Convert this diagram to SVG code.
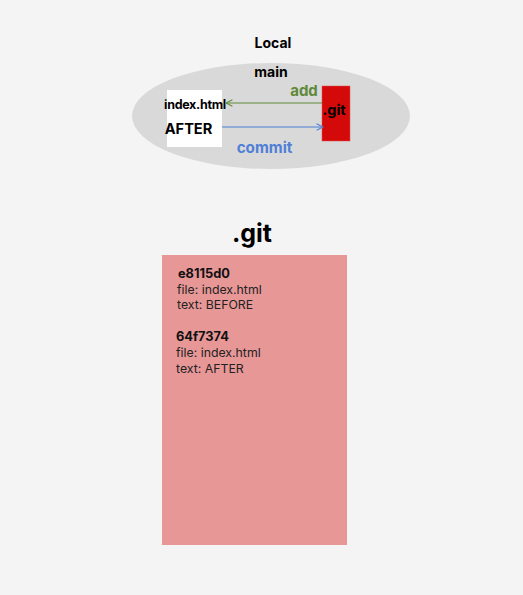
<svg xmlns="http://www.w3.org/2000/svg" width="523" height="595" viewBox="0 0 523 595">
<style>
text{font-family:Inter,"Liberation Sans",sans-serif;}
.b{font-weight:bold;}
.n{font-size:12.3px;fill:#222;}
</style>
<defs>
<marker id="ag" viewBox="0 0 10 10" refX="9" refY="5" markerWidth="8" markerHeight="8" orient="auto" markerUnits="userSpaceOnUse"><path d="M1,1 L9,5 L1,9" fill="none" stroke="#5f8a3a" stroke-width="1.3"/></marker>
<marker id="ab" viewBox="0 0 10 10" refX="9" refY="5" markerWidth="8" markerHeight="8" orient="auto" markerUnits="userSpaceOnUse"><path d="M1,1 L9,5 L1,9" fill="none" stroke="#4f7fd6" stroke-width="1.3"/></marker>
</defs>
<rect width="523" height="595" fill="#f4f4f4"/>
<g id="local">
<text x="273" y="48" text-anchor="middle" class="b" font-size="14">Local</text>
<ellipse cx="271" cy="116" rx="139" ry="53" fill="#d9d9d9"/>
<text x="271" y="77" text-anchor="middle" class="b" font-size="14">main</text>
</g>
<g id="index">
<rect x="167" y="90" width="55" height="57" fill="#ffffff"/>
<text x="195" y="109" text-anchor="middle" class="b" font-size="12.5" letter-spacing="-0.3">index.html</text>
<text x="188.5" y="134" text-anchor="middle" class="b" font-size="14.6">AFTER</text>
</g>
<g id="gitbox">
<rect x="322" y="86" width="28" height="55" fill="#d40a0a" stroke="#e05050" stroke-width="0.5"/>
<text x="334" y="115" text-anchor="middle" class="b" font-size="14.5">.git</text>
</g>
<g id="connectors">
<line x1="322" y1="103" x2="226" y2="103" stroke="#5f8a3a" stroke-width="1.2" marker-end="url(#ag)"/>
<line x1="222" y1="127" x2="323" y2="127" stroke="#4f7fd6" stroke-width="1.2" marker-end="url(#ab)"/>
<text x="304" y="96" text-anchor="middle" class="b" font-size="15" fill="#5f8a3a">add</text>
<text x="264.5" y="153" text-anchor="middle" class="b" font-size="15.2" fill="#4f7fd6">commit</text>
</g>
<g id="gitstore">
<text x="252" y="242" text-anchor="middle" class="b" font-size="25">.git</text>
<rect x="162" y="255" width="185" height="290" fill="#e89797"/>
<text x="178" y="278" class="b" font-size="12.8" fill="#111">e8115d0</text>
<text x="177" y="294" class="n">file: index.html</text>
<text x="177" y="309" class="n">text: BEFORE</text>
<text x="176" y="341" class="b" font-size="12.8" fill="#111">64f7374</text>
<text x="176" y="357" class="n">file: index.html</text>
<text x="176" y="373" class="n">text: AFTER</text>
</g>
</svg>
